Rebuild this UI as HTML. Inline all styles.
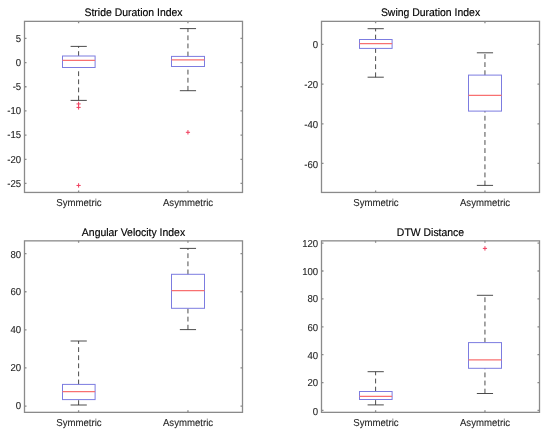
<!DOCTYPE html>
<html><head><meta charset="utf-8"><title>Boxplots</title>
<style>
html,body{margin:0;padding:0;background:#fff;width:550px;height:437px;overflow:hidden}
svg{display:block}
.ax{fill:none;stroke:#8a8a8a;stroke-width:1.3}
.box{fill:none;stroke:#7c7ce0;stroke-width:1.0}
.med{stroke:#f87070;stroke-width:1.25}
.wh{stroke:#383838;stroke-width:0.9;stroke-dasharray:4.8 3.3}
.cap{stroke:#383838;stroke-width:0.9}
.out{fill:none;stroke:#f03c5c;stroke-width:1}
text{font-family:"Liberation Sans",Arial,Helvetica,sans-serif;text-rendering:geometricPrecision}
.tl{font-size:9.6px;fill:#262626;stroke:#262626;stroke-width:0.1px}
.tt{font-size:10.45px;fill:#000000;stroke:#000000;stroke-width:0.15px}
</style></head><body>
<svg width="550" height="437" viewBox="0 0 550 437">
<defs><filter id="bl" x="-5%" y="-5%" width="110%" height="110%"><feGaussianBlur stdDeviation="0.6"/></filter></defs>
<g filter="url(#bl)">
<rect width="550" height="437" fill="#fff"/>
<line x1="78.6" y1="100.4" x2="78.6" y2="67.5" class="wh"/>
<line x1="78.6" y1="56" x2="78.6" y2="46.4" class="wh"/>
<line x1="70.6" y1="46.4" x2="86.8" y2="46.4" class="cap"/>
<line x1="70.6" y1="100.4" x2="86.8" y2="100.4" class="cap"/>
<rect x="62.5" y="56" width="32.6" height="11.5" class="box"/>
<line x1="62.5" y1="60.4" x2="95.1" y2="60.4" class="med"/>
<path d="M76.5 103.95h4.2M78.6 101.75v4.4" class="out"/>
<path d="M76.5 107.4h4.2M78.6 105.2v4.4" class="out"/>
<path d="M76.5 185.45h4.2M78.6 183.25v4.4" class="out"/>
<line x1="187.95" y1="90.7" x2="187.95" y2="66.5" class="wh"/>
<line x1="187.95" y1="56.4" x2="187.95" y2="28.6" class="wh"/>
<line x1="179.85" y1="28.6" x2="196.05" y2="28.6" class="cap"/>
<line x1="179.85" y1="90.7" x2="196.05" y2="90.7" class="cap"/>
<rect x="171.5" y="56.4" width="33" height="10.1" class="box"/>
<line x1="171.5" y1="59.8" x2="204.5" y2="59.8" class="med"/>
<path d="M185.85 132.3h4.2M187.95 130.1v4.4" class="out"/>
<rect x="24.5" y="21.35" width="218" height="171.09" class="ax"/>
<path d="M24.5 38.4h2M242.5 38.4h-2M24.5 62.58h2M242.5 62.58h-2M24.5 86.75h2M242.5 86.75h-2M24.5 110.93h2M242.5 110.93h-2M24.5 135.1h2M242.5 135.1h-2M24.5 159.28h2M242.5 159.28h-2M24.5 183.46h2M242.5 183.46h-2M78.6 192.44v-2M78.6 21.35v2M187.95 192.44v-2M187.95 21.35v2" class="ax"/>
<text transform="translate(21.2 42) scale(1 1.05)" class="tl" text-anchor="end">5</text>
<text transform="translate(21.2 66.18) scale(1 1.05)" class="tl" text-anchor="end">0</text>
<text transform="translate(21.2 90.35) scale(1 1.05)" class="tl" text-anchor="end">-5</text>
<text transform="translate(21.2 113.73) scale(1 1.05)" class="tl" text-anchor="end">-10</text>
<text transform="translate(21.2 138.1) scale(1 1.05)" class="tl" text-anchor="end">-15</text>
<text transform="translate(21.2 162.88) scale(1 1.05)" class="tl" text-anchor="end">-20</text>
<text transform="translate(21.2 187.06) scale(1 1.05)" class="tl" text-anchor="end">-25</text>
<text transform="translate(79 205.64) scale(1 1.05)" class="tl" text-anchor="middle">Symmetric</text>
<text transform="translate(188 205.64) scale(1 1.05)" class="tl" text-anchor="middle">Asymmetric</text>
<text transform="translate(133.5 16.05) scale(1 1.05)" class="tt" text-anchor="middle">Stride Duration Index</text>
<line x1="375.6" y1="77.2" x2="375.6" y2="48.4" class="wh"/>
<line x1="375.6" y1="39.5" x2="375.6" y2="28.7" class="wh"/>
<line x1="367.6" y1="28.7" x2="383.8" y2="28.7" class="cap"/>
<line x1="367.6" y1="77.2" x2="383.8" y2="77.2" class="cap"/>
<rect x="359.5" y="39.5" width="32.6" height="8.9" class="box"/>
<line x1="359.5" y1="43.6" x2="392.1" y2="43.6" class="med"/>
<line x1="484.95" y1="185.4" x2="484.95" y2="111.1" class="wh"/>
<line x1="484.95" y1="75.1" x2="484.95" y2="52.8" class="wh"/>
<line x1="476.85" y1="52.8" x2="493.05" y2="52.8" class="cap"/>
<line x1="476.85" y1="185.4" x2="493.05" y2="185.4" class="cap"/>
<rect x="468.5" y="75.1" width="33" height="36" class="box"/>
<line x1="468.5" y1="95.3" x2="501.5" y2="95.3" class="med"/>
<rect x="321.5" y="21.35" width="218" height="171.09" class="ax"/>
<path d="M321.5 44.46h2M539.5 44.46h-2M321.5 84.13h2M539.5 84.13h-2M321.5 123.8h2M539.5 123.8h-2M321.5 163.46h2M539.5 163.46h-2M375.6 192.44v-2M375.6 21.35v2M484.95 192.44v-2M484.95 21.35v2" class="ax"/>
<text transform="translate(318.2 48.06) scale(1 1.05)" class="tl" text-anchor="end">0</text>
<text transform="translate(318.2 87.73) scale(1 1.05)" class="tl" text-anchor="end">-20</text>
<text transform="translate(318.2 128.1) scale(1 1.05)" class="tl" text-anchor="end">-40</text>
<text transform="translate(318.2 167.66) scale(1 1.05)" class="tl" text-anchor="end">-60</text>
<text transform="translate(376 205.64) scale(1 1.05)" class="tl" text-anchor="middle">Symmetric</text>
<text transform="translate(485 205.64) scale(1 1.05)" class="tl" text-anchor="middle">Asymmetric</text>
<text transform="translate(430.5 16.05) scale(1 1.05)" class="tt" text-anchor="middle">Swing Duration Index</text>
<line x1="78.6" y1="405" x2="78.6" y2="399.6" class="wh"/>
<line x1="78.6" y1="384.4" x2="78.6" y2="341" class="wh"/>
<line x1="70.6" y1="341" x2="86.8" y2="341" class="cap"/>
<line x1="70.6" y1="405" x2="86.8" y2="405" class="cap"/>
<rect x="62.5" y="384.4" width="32.6" height="15.2" class="box"/>
<line x1="62.5" y1="391.5" x2="95.1" y2="391.5" class="med"/>
<line x1="187.95" y1="329.6" x2="187.95" y2="308.3" class="wh"/>
<line x1="187.95" y1="274.3" x2="187.95" y2="248.4" class="wh"/>
<line x1="179.85" y1="248.4" x2="196.05" y2="248.4" class="cap"/>
<line x1="179.85" y1="329.6" x2="196.05" y2="329.6" class="cap"/>
<rect x="171.5" y="274.3" width="33" height="34" class="box"/>
<line x1="171.5" y1="290.5" x2="204.5" y2="290.5" class="med"/>
<rect x="24.5" y="240.85" width="218" height="171.5" class="ax"/>
<path d="M24.5 406.05h2M242.5 406.05h-2M24.5 367.95h2M242.5 367.95h-2M24.5 329.85h2M242.5 329.85h-2M24.5 291.75h2M242.5 291.75h-2M24.5 253.65h2M242.5 253.65h-2M78.6 412.35v-2M78.6 240.85v2M187.95 412.35v-2M187.95 240.85v2" class="ax"/>
<text transform="translate(21.2 409.45) scale(1 1.05)" class="tl" text-anchor="end">0</text>
<text transform="translate(21.2 371.25) scale(1 1.05)" class="tl" text-anchor="end">20</text>
<text transform="translate(21.2 333.25) scale(1 1.05)" class="tl" text-anchor="end">40</text>
<text transform="translate(21.2 295.15) scale(1 1.05)" class="tl" text-anchor="end">60</text>
<text transform="translate(21.2 257.75) scale(1 1.05)" class="tl" text-anchor="end">80</text>
<text transform="translate(79 425.55) scale(1 1.05)" class="tl" text-anchor="middle">Symmetric</text>
<text transform="translate(188 425.55) scale(1 1.05)" class="tl" text-anchor="middle">Asymmetric</text>
<text transform="translate(133.5 235.55) scale(1 1.05)" class="tt" text-anchor="middle">Angular Velocity Index</text>
<line x1="375.6" y1="404.9" x2="375.6" y2="399.5" class="wh"/>
<line x1="375.6" y1="391.5" x2="375.6" y2="371.7" class="wh"/>
<line x1="367.6" y1="371.7" x2="383.8" y2="371.7" class="cap"/>
<line x1="367.6" y1="404.9" x2="383.8" y2="404.9" class="cap"/>
<rect x="359.5" y="391.5" width="32.6" height="8" class="box"/>
<line x1="359.5" y1="396.4" x2="392.1" y2="396.4" class="med"/>
<line x1="484.95" y1="393.5" x2="484.95" y2="368.3" class="wh"/>
<line x1="484.95" y1="342.6" x2="484.95" y2="295.3" class="wh"/>
<line x1="476.85" y1="295.3" x2="493.05" y2="295.3" class="cap"/>
<line x1="476.85" y1="393.5" x2="493.05" y2="393.5" class="cap"/>
<rect x="468.5" y="342.6" width="33" height="25.7" class="box"/>
<line x1="468.5" y1="359.8" x2="501.5" y2="359.8" class="med"/>
<path d="M482.85 248.4h4.2M484.95 246.2v4.4" class="out"/>
<rect x="321.5" y="240.85" width="218" height="171.5" class="ax"/>
<path d="M321.5 410.46h2M539.5 410.46h-2M321.5 382.57h2M539.5 382.57h-2M321.5 354.68h2M539.5 354.68h-2M321.5 326.8h2M539.5 326.8h-2M321.5 298.9h2M539.5 298.9h-2M321.5 271h2M539.5 271h-2M321.5 243.1h2M539.5 243.1h-2M375.6 412.35v-2M375.6 240.85v2M484.95 412.35v-2M484.95 240.85v2" class="ax"/>
<text transform="translate(318.2 414.76) scale(1 1.05)" class="tl" text-anchor="end">0</text>
<text transform="translate(318.2 386.17) scale(1 1.05)" class="tl" text-anchor="end">20</text>
<text transform="translate(318.2 358.93) scale(1 1.05)" class="tl" text-anchor="end">40</text>
<text transform="translate(318.2 330.9) scale(1 1.05)" class="tl" text-anchor="end">60</text>
<text transform="translate(318.2 302.3) scale(1 1.05)" class="tl" text-anchor="end">80</text>
<text transform="translate(318.2 274.6) scale(1 1.05)" class="tl" text-anchor="end">100</text>
<text transform="translate(318.2 246.7) scale(1 1.05)" class="tl" text-anchor="end">120</text>
<text transform="translate(376 425.55) scale(1 1.05)" class="tl" text-anchor="middle">Symmetric</text>
<text transform="translate(485 425.55) scale(1 1.05)" class="tl" text-anchor="middle">Asymmetric</text>
<text transform="translate(430.5 235.55) scale(1 1.05)" class="tt" text-anchor="middle">DTW Distance</text>
</g>
</svg>
</body></html>
